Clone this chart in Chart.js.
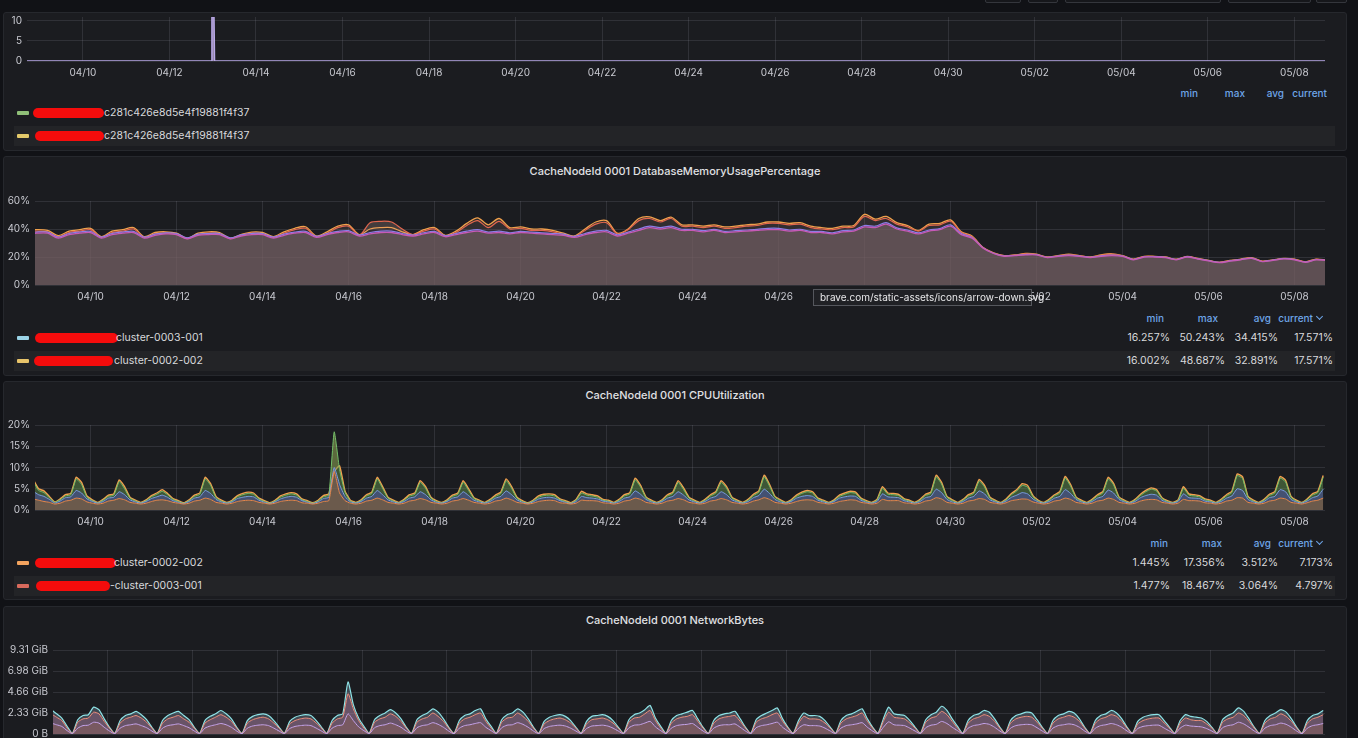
<!DOCTYPE html>
<html>
<head>
<meta charset="utf-8">
<title>CacheNodeId 0001</title>
<script src="https://cdn.jsdelivr.net/npm/chart.js@4.4.1/dist/chart.umd.min.js"></script>
<style>
  html, body { margin: 0; padding: 0; }
  body { width: 1358px; height: 738px; overflow: hidden; position: relative; background: #111216; font-family: Inter, "Noto Sans", sans-serif; }
  .panel { position: absolute; left: 3px; width: 1344px; background: #1b1c20; border: 1px solid #26282d; border-radius: 3px; box-sizing: border-box; }
  .title { position: absolute; left: 3px; width: 1344px; text-align: center; color: #e0e1e4; font-size: 11px; font-weight: 500; line-height: 14px; }
  canvas { position: absolute; left: 0; }
  .txt { position: absolute; height: 14px; line-height: 14px; font-size: 10.5px; white-space: nowrap; color: #d8d9dc; }
  .head { color: #6ea6e8; font-weight: 500; font-size: 10px; }
  .band { position: absolute; left: 14px; width: 1321px; height: 20px; background: rgba(255,255,255,0.035); }
  .dash { position: absolute; left: 17px; width: 12px; height: 4px; border-radius: 1px; }
  .redact { position: absolute; height: 10px; border-radius: 5px; background: #f50c0c; }
  .tool { position: absolute; top: -20px; height: 23px; border: 1px solid #34363c; border-radius: 2px; box-sizing: border-box; background: #16171b; }
  .chev { position: absolute; width: 4px; height: 4px; border-right: 1.3px solid #6ea6e8; border-bottom: 1.3px solid #6ea6e8; transform: rotate(45deg); }
  #tip { position: absolute; left: 813px; top: 289px; width: 219px; height: 17px; box-sizing: border-box; background: #202125; border: 1px solid #55575d; color: #e8e8ea; font-size: 10px; line-height: 15px; padding-left: 6px; white-space: nowrap; }
</style>
</head>
<body>
<div class="tool" style="left:985px;width:36px"></div>
<div class="tool" style="left:1028px;width:30px"></div>
<div class="tool" style="left:1065px;width:156px"></div>
<div class="tool" style="left:1228px;width:83px"></div>
<div class="tool" style="left:1316px;width:31px"></div>

<div class="panel" style="top:12px;height:139px"></div>
<div class="panel" style="top:156px;height:220px"></div>
<div class="panel" style="top:381px;height:219px"></div>
<div class="panel" style="top:606px;height:160px"></div>

<div class="title" style="top:164px">CacheNodeId 0001 DatabaseMemoryUsagePercentage</div>
<div class="title" style="top:388px">CacheNodeId 0001 CPUUtilization</div>
<div class="title" style="top:613px">CacheNodeId 0001 NetworkBytes</div>

<canvas id="c1" width="1340" height="80" style="top:6px"></canvas>
<canvas id="c2" width="1340" height="120" style="top:190px"></canvas>
<canvas id="c3" width="1340" height="121" style="top:414px"></canvas>
<canvas id="c4" width="1340" height="125" style="top:639px"></canvas>

<script>
// x axis: hours since 04/08 00:00, view runs 04/08 17:00 -> 05/08 17:00
const dateTickLabels = ['04/10', '04/12', '04/14', '04/16', '04/18', '04/20', '04/22', '04/24', '04/26', '04/28', '04/30', '05/02', '05/04', '05/06', '05/08'];

// top panel (only the tail is on screen)
const p1Hours = [16, 119.3, 119.6, 120.7, 121.0, 740];
const p1Values = [0, 0, 11, 11, 0, 0];
const p1TickValues = [0, 5, 10];
const p1TickLabels = ['0', '5', '10'];

// DatabaseMemoryUsagePercentage, every 6h from 04/08 12:00
const memStart = 12, memStep = 6;
const memOrange = [39, 39.5,
  39, 35.3, 38.5, 39.5,  40.5, 34.6, 38.5, 39.5,  41, 34.6, 37.5, 38,  37, 33.4, 37, 38,
  37.5, 33.5, 36, 37.8,  37.5, 34.6, 38, 40.5,  41.6, 35, 38, 42,  43, 36, 40, 41,
  41, 38, 36, 39.5,  41, 35.5, 38.5, 44,  48, 43, 47.5, 41,  41.5, 40, 40, 39,
  37, 35, 40, 45,  46, 37, 40, 47.5,  48.7, 46, 48.5, 43,  43, 42, 43, 41.5,
  42, 43, 43.5, 45,  45, 44, 44.5, 42,  41, 40.5, 42, 42.5,  50.5, 47, 49, 44.5,
  42.5, 39, 43.5, 44,  46.5, 38, 35, 27,  23, 21, 21.5, 22.5,  22, 20, 21, 22,
  21, 20, 21.5, 22.3,  21, 18.5, 20.5, 20.5,  20, 18.4, 20.5, 19,  17.6, 16.2, 17.5, 18.5,
  19.5, 17, 18, 19,  18.5, 16.5, 18.5, 17.7];
const memRed = [38, 38.5,
  38, 34.5, 37.5, 38.5,  39.5, 34, 37.5, 38.5,  40, 34, 36.5, 37,  36, 33, 36, 37,
  36.5, 33, 35.5, 37,  36.5, 34, 37, 39.5,  40.5, 34.5, 37, 41,  42, 35.5, 44.5, 45.5,
  45, 40, 36, 38.5,  40, 35, 37.5, 42.5,  46, 41, 45.5, 40,  40.5, 39, 39, 38,
  36, 34.5, 39, 43.5,  44.5, 36.5, 39.5, 46,  47.5, 45, 47.5, 42,  42, 41, 42, 40.5,
  41, 42, 42.5, 44,  44, 43, 43.5, 41,  40, 39.5, 41, 41.5,  49, 46, 47.5, 43.5,
  41.5, 38.5, 42.5, 43,  45.5, 37.5, 34.5, 26.8,  22.8, 20.8, 21.3, 22.2,  21.8, 19.8, 20.8, 21.7,
  20.8, 19.8, 21.2, 22,  20.8, 18.3, 20.3, 20.3,  19.8, 18.2, 20.3, 18.8,  17.4, 16.1, 17.3, 18.3,
  19.3, 16.9, 17.8, 18.8,  18.3, 16.4, 18.3, 17.6];
const memPurple = [36.8, 37.8,
  37.8, 34.2, 36.8, 37.8,  38.3, 34.2, 36.8, 37.8,  38.3, 34.2, 36.3, 37.3,  36.8, 33.7, 36.3, 36.8,
  36.8, 33.7, 35.8, 36.8,  36.8, 34.2, 36.3, 37.8,  38.3, 34.7, 36.8, 38.3,  38.8, 35.7, 37.5, 38.5,
  38.5, 36.8, 35.7, 37.3,  38.3, 35.2, 36.8, 38.5,  39.5, 37.8, 38.5, 37.3,  38.3, 37.8, 37.3, 36.8,
  36.3, 34.7, 36.8, 38.5,  39, 35.8, 37.8, 40,  42, 41, 42, 39.8,  39.8, 38.8, 39.8, 38.3,
  38.8, 39.3, 39.8, 40.5,  40.5, 39.3, 39.8, 38.3,  38.3, 37.3, 38.8, 39.3,  42.5, 42, 44.5, 40.8,
  39.3, 37.3, 39.3, 40.3,  43, 36.8, 34, 26.7,  22.7, 20.7, 21.2, 21.8,  21.7, 19.7, 20.7, 21.3,
  20.7, 19.7, 20.8, 21.3,  20.7, 18.2, 20.2, 20.2,  19.7, 18.2, 20.2, 18.7,  17.4, 16.1, 17.2, 18.2,
  19.2, 16.8, 17.8, 18.8,  18.2, 16.3, 18.2, 17.6];
const memMagenta = [36, 37,
  37, 33.5, 36, 37,  37.5, 33.5, 36, 37,  37.5, 33.5, 35.5, 36.5,  36, 33, 35.5, 36,
  36, 33, 35, 36,  36, 33.5, 35.5, 37,  37.5, 34, 36, 37.5,  38, 35, 36.5, 37.5,
  37.5, 36, 35, 36.5,  37.5, 34.5, 36, 37.5,  38.5, 37, 37.5, 36.5,  37.5, 37, 36.5, 36,
  35.5, 34, 36, 37.5,  38, 35, 37, 39,  41, 40, 41, 39,  39, 38, 39, 37.5,
  38, 38.5, 39, 39.5,  39.5, 38.5, 39, 37.5,  37.5, 36.5, 38, 38.5,  41.5, 41, 43.5, 40,
  38.5, 36.5, 38.5, 39.5,  42, 36, 33.5, 26.5,  22.5, 20.5, 21, 21.5,  21.5, 19.5, 20.5, 21,
  20.5, 19.5, 20.5, 21,  20.5, 18, 20, 20,  19.5, 18, 20, 18.5,  17.2, 16, 17, 18,
  19, 16.7, 17.6, 18.6,  18, 16.2, 18, 17.5];
const memTickValues = [0, 20, 40, 60];
const memTickLabels = ['0%', '20%', '40%', '60%'];

// CPUUtilization, every 3h from 04/08 16:00
const cpuStart = 16, cpuStep = 3;
const cpuOrange = [7.2, 5.0, 4.5,
  3.2, 1.9, 2.6, 3.6, 3.9, 7.7, 6.5, 3.3,
  2.4, 1.8, 2.5, 3.5, 3.8, 7.1, 5.5, 3.0,
  2.3, 1.8, 2.4, 3.4, 4.0, 4.8, 3.9, 2.7,
  2.2, 1.7, 2.4, 3.5, 4.0, 7.7, 6.2, 3.2,
  2.3, 1.8, 2.3, 3.4, 3.9, 4.2, 4.0, 2.8,
  2.2, 1.7, 2.3, 3.3, 3.8, 4.1, 3.8, 2.6,
  2.2, 1.7, 2.3, 3.4, 3.8, 9.0, 10.4, 4.5,
  2.3, 1.8, 2.4, 3.6, 4.2, 7.7, 5.5, 3.0,
  2.3, 1.8, 2.5, 3.6, 4.0, 6.9, 5.5, 3.0,
  2.2, 1.8, 2.4, 3.5, 4.0, 6.9, 5.0, 2.9,
  2.3, 1.8, 2.5, 3.5, 4.2, 7.3, 5.5, 3.0,
  2.2, 1.7, 2.3, 3.3, 3.7, 3.8, 3.6, 2.6,
  2.2, 1.7, 2.5, 4.4, 3.8, 3.6, 3.3, 2.5,
  2.3, 1.8, 2.5, 3.6, 4.1, 7.5, 5.8, 3.1,
  2.3, 1.8, 2.4, 3.6, 4.2, 6.9, 5.2, 3.0,
  2.3, 1.8, 2.5, 3.6, 4.3, 6.9, 5.5, 3.0,
  2.3, 1.8, 2.5, 3.7, 4.5, 8.2, 6.0, 3.2,
  2.4, 1.8, 2.4, 3.5, 4.2, 4.6, 4.3, 2.8,
  2.3, 1.8, 2.4, 3.5, 4.0, 4.4, 4.2, 2.8,
  2.2, 1.8, 2.5, 5.5, 4.0, 3.9, 3.7, 2.7,
  2.3, 1.8, 2.5, 3.7, 4.2, 8.2, 6.5, 3.2,
  2.4, 1.8, 2.5, 3.6, 4.2, 7.2, 5.8, 3.0,
  2.3, 1.8, 2.6, 3.9, 4.8, 6.2, 5.8, 3.4,
  2.3, 1.8, 2.5, 3.6, 4.3, 7.9, 6.0, 3.1,
  2.3, 1.8, 2.5, 3.6, 4.3, 7.7, 6.3, 3.1,
  2.3, 1.8, 2.5, 3.7, 4.6, 5.2, 4.8, 2.9,
  2.2, 1.8, 2.4, 5.5, 3.8, 3.6, 3.4, 2.6,
  2.3, 1.8, 2.5, 3.6, 4.4, 8.5, 7.8, 3.2,
  2.3, 1.8, 2.5, 3.7, 4.3, 7.9, 7.0, 3.2,
  2.3, 1.8, 2.6, 3.8, 4.4, 8.1];
const cpuGreen = [6.8, 4.6, 4.1,
  2.9, 1.8, 2.4, 3.3, 3.6, 7.3, 6.0, 3.0,
  2.2, 1.7, 2.3, 3.2, 3.5, 6.7, 5.0, 2.8,
  2.1, 1.7, 2.2, 3.1, 3.7, 4.4, 3.6, 2.5,
  2.0, 1.6, 2.2, 3.2, 3.7, 7.3, 5.8, 2.9,
  2.1, 1.7, 2.1, 3.1, 3.6, 3.9, 3.7, 2.6,
  2.0, 1.6, 2.1, 3.0, 3.5, 3.8, 3.5, 2.4,
  2.0, 1.6, 2.1, 3.1, 3.5, 18.4, 9.5, 4.2,
  2.1, 1.7, 2.2, 3.3, 3.9, 7.3, 5.1, 2.8,
  2.1, 1.7, 2.3, 3.3, 3.7, 6.5, 5.1, 2.8,
  2.0, 1.7, 2.2, 3.2, 3.7, 6.5, 4.6, 2.7,
  2.1, 1.7, 2.3, 3.2, 3.9, 6.9, 5.1, 2.8,
  2.0, 1.6, 2.1, 3.0, 3.4, 3.5, 3.3, 2.4,
  2.0, 1.6, 2.3, 4.0, 3.5, 3.3, 3.0, 2.3,
  2.1, 1.7, 2.3, 3.3, 3.8, 7.1, 5.4, 2.9,
  2.1, 1.7, 2.2, 3.3, 3.9, 6.5, 4.8, 2.8,
  2.1, 1.7, 2.3, 3.3, 4.0, 6.5, 5.1, 2.8,
  2.1, 1.7, 2.3, 3.4, 4.2, 7.8, 5.6, 3.0,
  2.2, 1.7, 2.2, 3.2, 3.9, 4.3, 4.0, 2.6,
  2.1, 1.7, 2.2, 3.2, 3.7, 4.1, 3.9, 2.6,
  2.0, 1.7, 2.3, 5.1, 3.7, 3.6, 3.4, 2.5,
  2.1, 1.7, 2.3, 3.4, 3.9, 7.8, 6.1, 3.0,
  2.2, 1.7, 2.3, 3.3, 3.9, 6.8, 5.4, 2.8,
  2.1, 1.7, 2.4, 3.6, 4.5, 5.8, 5.4, 3.1,
  2.1, 1.7, 2.3, 3.3, 4.0, 7.5, 5.6, 2.9,
  2.1, 1.7, 2.3, 3.3, 4.0, 7.3, 5.9, 2.9,
  2.1, 1.7, 2.3, 3.4, 4.3, 4.9, 4.5, 2.7,
  2.0, 1.7, 2.2, 5.1, 3.5, 3.3, 3.1, 2.4,
  2.1, 1.7, 2.3, 3.3, 4.1, 8.1, 7.4, 3.0,
  2.1, 1.7, 2.3, 3.4, 4.0, 7.5, 6.6, 3.0,
  2.1, 1.7, 2.4, 3.5, 4.1, 7.7];
const cpuBlue = [4.4, 3.6, 3.2,
  2.5, 1.6, 2.1, 2.9, 3.1, 4.6, 4.0, 2.6,
  2.0, 1.6, 2.0, 2.8, 3.0, 4.3, 3.6, 2.4,
  1.9, 1.6, 2.0, 2.7, 3.1, 3.5, 3.0, 2.2,
  1.8, 1.5, 2.0, 2.8, 3.1, 4.6, 3.9, 2.5,
  1.9, 1.6, 1.9, 2.7, 3.0, 3.2, 3.1, 2.3,
  1.8, 1.5, 1.9, 2.6, 3.0, 3.2, 3.0, 2.2,
  1.8, 1.5, 1.9, 2.7, 3.0, 10.0, 6.0, 3.2,
  1.9, 1.6, 2.0, 2.8, 3.2, 4.6, 3.6, 2.4,
  1.9, 1.6, 2.0, 2.8, 3.1, 4.3, 3.6, 2.4,
  1.8, 1.6, 2.0, 2.8, 3.1, 4.3, 3.4, 2.3,
  1.9, 1.6, 2.0, 2.8, 3.2, 4.5, 3.6, 2.4,
  1.8, 1.5, 1.9, 2.6, 2.9, 3.0, 2.8, 2.2,
  1.8, 1.5, 2.0, 3.2, 2.9, 2.8, 2.6, 2.1,
  1.9, 1.6, 2.0, 2.8, 3.1, 4.5, 3.7, 2.5,
  1.9, 1.6, 2.0, 2.8, 3.2, 4.3, 3.5, 2.4,
  1.9, 1.6, 2.0, 2.8, 3.2, 4.3, 3.6, 2.4,
  1.9, 1.6, 2.0, 2.9, 3.4, 4.9, 3.9, 2.5,
  1.9, 1.6, 2.0, 2.8, 3.2, 3.4, 3.2, 2.3,
  1.9, 1.6, 2.0, 2.8, 3.1, 3.3, 3.2, 2.3,
  1.8, 1.6, 2.0, 3.8, 3.1, 3.0, 2.9, 2.2,
  1.9, 1.6, 2.0, 2.9, 3.2, 4.9, 4.1, 2.5,
  1.9, 1.6, 2.0, 2.8, 3.2, 4.5, 3.8, 2.4,
  1.9, 1.6, 2.1, 3.0, 3.5, 4.1, 3.8, 2.6,
  1.9, 1.6, 2.0, 2.8, 3.2, 4.8, 3.9, 2.5,
  1.9, 1.6, 2.0, 2.8, 3.2, 4.7, 4.0, 2.5,
  1.9, 1.6, 2.0, 2.9, 3.4, 3.7, 3.5, 2.3,
  1.8, 1.6, 2.0, 3.8, 2.9, 2.8, 2.7, 2.1,
  1.9, 1.6, 2.0, 2.8, 3.3, 5.0, 4.6, 2.5,
  1.9, 1.6, 2.0, 2.9, 3.2, 4.8, 4.3, 2.5,
  1.9, 1.6, 2.1, 2.9, 3.3, 4.9];
const cpuBase = [2.6, 2.3, 2.0,
  1.8, 1.4, 1.6, 2.1, 2.3, 2.8, 2.6, 1.9,
  1.6, 1.4, 1.6, 2.1, 2.3, 2.7, 2.4, 1.8,
  1.6, 1.4, 1.6, 2.0, 2.3, 2.4, 2.2, 1.8,
  1.6, 1.4, 1.6, 2.1, 2.3, 2.8, 2.5, 1.8,
  1.6, 1.4, 1.6, 2.0, 2.2, 2.3, 2.2, 1.8,
  1.6, 1.4, 1.6, 2.0, 2.2, 2.3, 2.2, 1.7,
  1.6, 1.4, 1.6, 2.0, 2.2, 9.0, 4.0, 2.2,
  1.6, 1.4, 1.6, 2.1, 2.3, 2.8, 2.4, 1.8,
  1.6, 1.4, 1.6, 2.1, 2.3, 2.7, 2.4, 1.8,
  1.6, 1.4, 1.6, 2.1, 2.3, 2.7, 2.3, 1.8,
  1.6, 1.4, 1.6, 2.1, 2.3, 2.8, 2.4, 1.8,
  1.6, 1.4, 1.6, 2.0, 2.2, 2.3, 2.2, 1.7,
  1.6, 1.4, 1.6, 2.3, 2.2, 2.2, 2.1, 1.7,
  1.6, 1.4, 1.6, 2.1, 2.3, 2.8, 2.5, 1.8,
  1.6, 1.4, 1.6, 2.1, 2.3, 2.7, 2.4, 1.8,
  1.6, 1.4, 1.6, 2.1, 2.3, 2.7, 2.4, 1.8,
  1.6, 1.4, 1.6, 2.1, 2.4, 2.9, 2.5, 1.8,
  1.6, 1.4, 1.6, 2.0, 2.3, 2.4, 2.3, 1.8,
  1.6, 1.4, 1.6, 2.0, 2.2, 2.4, 2.3, 1.8,
  1.6, 1.4, 1.6, 2.5, 2.2, 2.2, 2.2, 1.7,
  1.6, 1.4, 1.6, 2.1, 2.3, 2.9, 2.6, 1.8,
  1.6, 1.4, 1.6, 2.1, 2.3, 2.7, 2.5, 1.8,
  1.6, 1.4, 1.7, 2.2, 2.4, 2.6, 2.5, 1.9,
  1.6, 1.4, 1.6, 2.1, 2.3, 2.8, 2.5, 1.8,
  1.6, 1.4, 1.6, 2.1, 2.3, 2.8, 2.5, 1.8,
  1.6, 1.4, 1.6, 2.1, 2.4, 2.5, 2.4, 1.8,
  1.6, 1.4, 1.6, 2.5, 2.2, 2.2, 2.1, 1.7,
  1.6, 1.4, 1.6, 2.1, 2.3, 2.9, 2.8, 1.8,
  1.6, 1.4, 1.6, 2.1, 2.3, 2.8, 2.6, 1.8,
  1.6, 1.4, 1.7, 2.1, 2.3, 2.8];
const cpuTickValues = [0, 5, 10, 15, 20];
const cpuTickLabels = ['0%', '5%', '10%', '15%', '20%'];

// NetworkBytes in GB (1e9 bytes), every 3h from 04/08 16:00
const netStart = 16, netStep = 3;
const netCyan = [2.9, 2.4, 1.9,
  0.9, 0.1, 1.7, 2.2, 2.3, 3.2, 2.9, 1.8,
  0.8, 0.1, 1.6, 2.2, 2.4, 2.7, 2.3, 1.7,
  0.8, 0.1, 1.6, 2.2, 2.5, 2.7, 2.2, 1.7,
  0.8, 0.1, 1.6, 2.1, 2.4, 2.8, 2.4, 1.8,
  0.8, 0.1, 1.6, 2.1, 2.3, 2.4, 2.2, 1.6,
  0.8, 0.1, 1.5, 2.0, 2.2, 2.3, 2.2, 1.6,
  0.8, 0.1, 1.6, 2.2, 2.4, 6.2, 3.5, 1.9,
  0.9, 0.1, 1.7, 2.2, 2.5, 2.9, 2.5, 1.8,
  0.8, 0.1, 1.7, 2.2, 2.5, 3.0, 2.6, 1.8,
  0.8, 0.1, 1.6, 2.2, 2.4, 2.8, 3.0, 1.8,
  0.9, 0.1, 1.7, 2.3, 2.5, 3.0, 2.6, 1.8,
  0.8, 0.1, 1.5, 2.0, 2.2, 2.3, 2.1, 1.6,
  0.8, 0.1, 1.5, 2.1, 2.2, 2.3, 2.1, 1.6,
  0.8, 0.1, 1.7, 2.3, 2.5, 2.9, 3.4, 1.9,
  0.9, 0.1, 1.6, 2.2, 2.4, 2.6, 2.8, 1.8,
  0.8, 0.1, 1.6, 2.2, 2.4, 2.5, 2.7, 1.8,
  0.8, 0.1, 1.7, 2.2, 2.5, 2.8, 3.1, 1.8,
  0.8, 0.1, 1.6, 2.5, 2.2, 2.2, 2.1, 1.6,
  0.8, 0.1, 1.6, 2.2, 2.4, 2.7, 3.0, 1.8,
  0.8, 0.1, 1.8, 3.2, 2.4, 2.3, 2.2, 1.6,
  0.8, 0.1, 1.7, 2.3, 2.6, 3.3, 2.8, 1.8,
  0.9, 0.1, 1.6, 2.2, 2.4, 2.8, 2.6, 1.8,
  0.8, 0.1, 1.6, 2.2, 2.4, 2.6, 2.5, 1.7,
  0.8, 0.1, 1.6, 2.2, 2.4, 2.7, 2.5, 1.8,
  0.8, 0.1, 1.6, 2.2, 2.4, 2.8, 2.5, 1.8,
  0.8, 0.1, 1.5, 2.0, 2.2, 2.3, 2.3, 1.6,
  0.8, 0.1, 1.6, 2.3, 2.1, 2.0, 1.9, 1.5,
  0.8, 0.1, 1.7, 2.2, 2.5, 3.1, 2.7, 1.8,
  0.8, 0.1, 1.6, 2.2, 2.5, 2.9, 2.6, 1.8,
  0.8, 0.1, 1.6, 2.2, 2.4, 2.8];
const netSalmon = [2.4, 2.0, 1.6,
  0.7, 0.08, 1.4, 1.8, 1.9, 2.6, 2.4, 1.5,
  0.7, 0.08, 1.3, 1.8, 2.0, 2.2, 1.9, 1.4,
  0.7, 0.08, 1.3, 1.8, 2.0, 2.2, 1.8, 1.4,
  0.7, 0.08, 1.3, 1.7, 2.0, 2.3, 2.0, 1.5,
  0.7, 0.08, 1.3, 1.7, 1.9, 2.0, 1.8, 1.3,
  0.7, 0.08, 1.2, 1.6, 1.8, 1.9, 1.8, 1.3,
  0.7, 0.08, 1.3, 1.8, 2.0, 4.8, 3.0, 1.6,
  0.7, 0.08, 1.4, 1.8, 2.0, 2.4, 2.1, 1.5,
  0.7, 0.08, 1.4, 1.8, 2.0, 2.5, 2.1, 1.5,
  0.7, 0.08, 1.3, 1.8, 2.0, 2.3, 2.5, 1.5,
  0.7, 0.08, 1.4, 1.9, 2.0, 2.5, 2.1, 1.5,
  0.7, 0.08, 1.2, 1.6, 1.8, 1.9, 1.7, 1.3,
  0.7, 0.08, 1.2, 1.7, 1.8, 1.9, 1.7, 1.3,
  0.7, 0.08, 1.4, 1.9, 2.0, 2.4, 2.8, 1.6,
  0.7, 0.08, 1.3, 1.8, 2.0, 2.1, 2.3, 1.5,
  0.7, 0.08, 1.3, 1.8, 2.0, 2.1, 2.2, 1.5,
  0.7, 0.08, 1.4, 1.8, 2.0, 2.3, 2.5, 1.5,
  0.7, 0.08, 1.3, 2.1, 1.8, 1.8, 1.7, 1.3,
  0.7, 0.08, 1.3, 1.8, 2.0, 2.2, 2.5, 1.5,
  0.7, 0.08, 1.5, 2.6, 2.0, 1.9, 1.8, 1.3,
  0.7, 0.08, 1.4, 1.9, 2.1, 2.7, 2.3, 1.5,
  0.7, 0.08, 1.3, 1.8, 2.0, 2.3, 2.1, 1.5,
  0.7, 0.08, 1.3, 1.8, 2.0, 2.1, 2.0, 1.4,
  0.7, 0.08, 1.3, 1.8, 2.0, 2.2, 2.0, 1.5,
  0.7, 0.08, 1.3, 1.8, 2.0, 2.3, 2.1, 1.5,
  0.7, 0.08, 1.2, 1.6, 1.8, 1.9, 1.9, 1.3,
  0.7, 0.08, 1.3, 1.9, 1.7, 1.6, 1.6, 1.2,
  0.7, 0.08, 1.4, 1.8, 2.0, 2.5, 2.2, 1.5,
  0.7, 0.08, 1.3, 1.8, 2.0, 2.4, 2.1, 1.5,
  0.7, 0.08, 1.3, 1.8, 2.0, 2.3];
const netLavender = [1.3, 1.1, 0.9,
  0.4, 0.04, 0.7, 1.0, 1.05, 1.4, 1.3, 0.8,
  0.35, 0.04, 0.7, 1.0, 1.1, 1.2, 1.0, 0.75,
  0.35, 0.04, 0.7, 1.0, 1.1, 1.2, 1.0, 0.75,
  0.35, 0.04, 0.7, 0.95, 1.1, 1.25, 1.1, 0.8,
  0.35, 0.04, 0.7, 0.95, 1.05, 1.1, 1.0, 0.7,
  0.35, 0.04, 0.65, 0.9, 1.0, 1.05, 1.0, 0.7,
  0.35, 0.04, 0.7, 1.0, 1.1, 2.4, 1.6, 0.85,
  0.4, 0.04, 0.75, 1.0, 1.1, 1.3, 1.1, 0.8,
  0.35, 0.04, 0.75, 1.0, 1.1, 1.35, 1.15, 0.8,
  0.35, 0.04, 0.7, 1.0, 1.1, 1.25, 1.35, 0.8,
  0.4, 0.04, 0.75, 1.05, 1.1, 1.35, 1.15, 0.8,
  0.35, 0.04, 0.65, 0.9, 1.0, 1.05, 0.95, 0.7,
  0.35, 0.04, 0.65, 0.95, 1.0, 1.05, 0.95, 0.7,
  0.35, 0.04, 0.75, 1.05, 1.1, 1.3, 1.5, 0.85,
  0.4, 0.04, 0.7, 1.0, 1.1, 1.15, 1.25, 0.8,
  0.35, 0.04, 0.7, 1.0, 1.1, 1.1, 1.2, 0.8,
  0.35, 0.04, 0.75, 1.0, 1.1, 1.25, 1.4, 0.8,
  0.35, 0.04, 0.7, 1.1, 1.0, 1.0, 0.95, 0.7,
  0.35, 0.04, 0.7, 1.0, 1.1, 1.2, 1.35, 0.8,
  0.35, 0.04, 0.8, 1.45, 1.1, 1.05, 1.0, 0.7,
  0.35, 0.04, 0.75, 1.05, 1.15, 1.5, 1.25, 0.8,
  0.4, 0.04, 0.7, 1.0, 1.1, 1.25, 1.15, 0.8,
  0.35, 0.04, 0.7, 1.0, 1.1, 1.15, 1.1, 0.75,
  0.35, 0.04, 0.7, 1.0, 1.1, 1.2, 1.1, 0.8,
  0.35, 0.04, 0.7, 1.0, 1.1, 1.25, 1.1, 0.8,
  0.35, 0.04, 0.65, 0.9, 1.0, 1.05, 1.05, 0.7,
  0.35, 0.04, 0.7, 1.05, 0.95, 0.9, 0.85, 0.65,
  0.35, 0.04, 0.75, 1.0, 1.1, 1.4, 1.2, 0.8,
  0.35, 0.04, 0.7, 1.0, 1.1, 1.3, 1.15, 0.8,
  0.35, 0.04, 0.7, 1.0, 1.1, 1.25];
const netTickValues = [0, 2.5, 5, 7.5, 10];
const netTickLabels = ['0 B', '2.33 GiB', '4.66 GiB', '6.98 GiB', '9.31 GiB'];

// legends
const statHeaders = ['min', 'max', 'avg', 'current'];
const p1Names = ['c281c426e8d5e4f19881f4f37', 'c281c426e8d5e4f19881f4f37'];
const p1Colors = ['#8fbf78', '#e3c96a'];
const p2Names = ['cluster-0003-001', 'cluster-0002-002'];
const p2Colors = ['#9ad3e6', '#e8c46a'];
const p2Stats = [['16.257%', '50.243%', '34.415%', '17.571%'], ['16.002%', '48.687%', '32.891%', '17.571%']];
const p3Names = ['cluster-0002-002', '-cluster-0003-001'];
const p3Colors = ['#f2a35e', '#d86a5c'];
const p3Stats = [['1.445%', '17.356%', '3.512%', '7.173%'], ['1.477%', '18.467%', '3.064%', '4.797%']];

Chart.defaults.font.family = 'Inter, "Noto Sans", sans-serif';

const gridColor = 'rgba(204,204,220,0.12)';
const tickColor = '#c8c9d0';

function pts(values, start, step) {
  return values.map((v, i) => ({ x: start + i * step, y: v }));
}

function series(values, start, step, line, fillColor, fill, width) {
  return {
    data: pts(values, start, step),
    borderColor: line,
    backgroundColor: fillColor,
    borderWidth: width || 1.2,
    fill: fill,
    pointRadius: 0
  };
}

function options(cfg) {
  return {
    responsive: false,
    animation: false,
    events: [],
    layout: { padding: { top: cfg.padTop, right: 15, left: 0, bottom: 0 } },
    plugins: { legend: { display: false }, tooltip: { enabled: false } },
    elements: { line: { tension: cfg.tension } },
    scales: {
      x: {
        type: 'linear', min: 17, max: 737,
        afterBuildTicks: s => { s.ticks = dateTickLabels.map((l, i) => ({ value: 48 + i * 48 })); },
        afterFit: s => { s.height = cfg.xHeight; },
        ticks: { callback: (v, i) => dateTickLabels[i], color: tickColor, font: { size: 10 }, padding: 6, autoSkip: false, maxRotation: 0 },
        grid: { color: gridColor, drawTicks: false },
        border: { display: false }
      },
      y: {
        min: 0, max: cfg.yMax,
        afterBuildTicks: s => { s.ticks = cfg.yTicks.map(v => ({ value: v })); },
        afterFit: s => { s.width = cfg.yWidth; },
        ticks: { callback: (v, i) => cfg.yLabels[i], color: tickColor, font: { size: 10 }, padding: 5 },
        grid: { color: gridColor, drawTicks: false },
        border: { display: false }
      }
    }
  };
}

new Chart(document.getElementById('c1'), {
  type: 'line',
  data: { datasets: [{
    data: p1Hours.map((h, i) => ({ x: h, y: p1Values[i] })),
    borderColor: '#b9a8e8', backgroundColor: 'rgba(232,206,240,0.5)', borderWidth: 1.6, fill: 'origin', pointRadius: 0
  }] },
  options: options({ padTop: 7, xHeight: 25, yWidth: 27, yMax: 10.9, yTicks: p1TickValues, yLabels: p1TickLabels, tension: 0 })
});

new Chart(document.getElementById('c2'), {
  type: 'line',
  data: { datasets: [
    series(memMagenta, memStart, memStep, '#c65ab6', 'rgba(118,96,100,0.75)', 'origin', 1.3),
    series(memPurple, memStart, memStep, '#8c7ee6', 'rgba(140,126,230,0.35)', '-1', 1.2),
    series(memRed, memStart, memStep, '#e2674f', 'rgba(200,160,160,0.13)', '-1', 1.2),
    series(memOrange, memStart, memStep, '#f0a04c', 'rgba(210,170,150,0.12)', '-1', 1.3)
  ] },
  options: options({ padTop: 10, xHeight: 25, yWidth: 35, yMax: 60, yTicks: memTickValues, yLabels: memTickLabels, tension: 0.3 })
});

new Chart(document.getElementById('c3'), {
  type: 'line',
  data: { datasets: [
    series(cpuBase, cpuStart, cpuStep, '#e8894c', 'rgba(128,106,88,0.8)', 'origin', 1),
    series(cpuBlue, cpuStart, cpuStep, '#7b9fe0', 'rgba(96,116,170,0.6)', '-1', 1),
    series(cpuGreen, cpuStart, cpuStep, '#73bf69', 'rgba(100,150,80,0.48)', '-1', 1),
    series(cpuOrange, cpuStart, cpuStep, '#f2a04e', 'rgba(220,150,80,0.3)', '-1', 1.4)
  ] },
  options: options({ padTop: 10, xHeight: 25, yWidth: 35, yMax: 20, yTicks: cpuTickValues, yLabels: cpuTickLabels, tension: 0.15 })
});

new Chart(document.getElementById('c4'), {
  type: 'line',
  data: { datasets: [
    series(netLavender, netStart, netStep, '#c9a6ee', 'rgba(160,115,125,0.7)', 'origin', 1),
    series(netSalmon, netStart, netStep, '#f0907c', 'rgba(200,150,190,0.45)', '-1', 1),
    series(netCyan, netStart, netStep, '#8ee3e6', 'rgba(150,175,200,0.3)', '-1', 1.2)
  ] },
  options: options({ padTop: 10, xHeight: 30, yWidth: 53, yMax: 10, yTicks: netTickValues, yLabels: netTickLabels, tension: 0.2 })
});

function el(cls, css, text) {
  const d = document.createElement('div');
  d.className = cls;
  Object.assign(d.style, css);
  if (text !== undefined) d.textContent = text;
  document.body.appendChild(d);
  return d;
}

function legend(cfg) {
  statHeaders.forEach((h, k) => {
    el('txt head', { top: (cfg.headY - 7) + 'px', right: (1358 - cfg.headRight[k]) + 'px' }, h);
  });
  if (cfg.chevron) el('chev', { left: '1317px', top: (cfg.headY - 4) + 'px' });
  cfg.names.forEach((name, r) => {
    const y = cfg.rowY[r];
    if (r % 2 === 1) el('band', { top: (y - 10) + 'px' });
    el('dash', { top: (y - 2) + 'px', background: cfg.colors[r] });
    const red = cfg.redact[r];
    el('redact', { left: red[0] + 'px', width: (red[1] - red[0]) + 'px', top: (y - 5) + 'px' });
    el('txt', { left: cfg.textX[r] + 'px', top: (y - 7) + 'px' }, name);
    if (cfg.stats) {
      cfg.stats[r].forEach((s, k) => {
        el('txt', { top: (y - 7) + 'px', right: (1358 - cfg.valRight[k]) + 'px' }, s);
      });
    }
  });
}

legend({ headY: 93, headRight: [1198, 1245, 1284, 1327], chevron: false, rowY: [113, 136],
  names: p1Names, colors: p1Colors, redact: [[33, 104], [35, 104]], textX: [104, 104] });
legend({ headY: 318, headRight: [1164, 1218, 1271, 1313], chevron: true, rowY: [338, 361],
  names: p2Names, colors: p2Colors, redact: [[35, 118], [34, 113]], textX: [116, 114],
  stats: p2Stats, valRight: [1170, 1225, 1278, 1333] });
legend({ headY: 543, headRight: [1168, 1222, 1271, 1313], chevron: true, rowY: [563, 586],
  names: p3Names, colors: p3Colors, redact: [[35, 116], [36, 110]], textX: [114, 110],
  stats: p3Stats, valRight: [1170, 1225, 1278, 1333] });

el('', {}, 'brave.com/static-assets/icons/arrow-down.svg').id = 'tip';
</script>
</body>
</html>
